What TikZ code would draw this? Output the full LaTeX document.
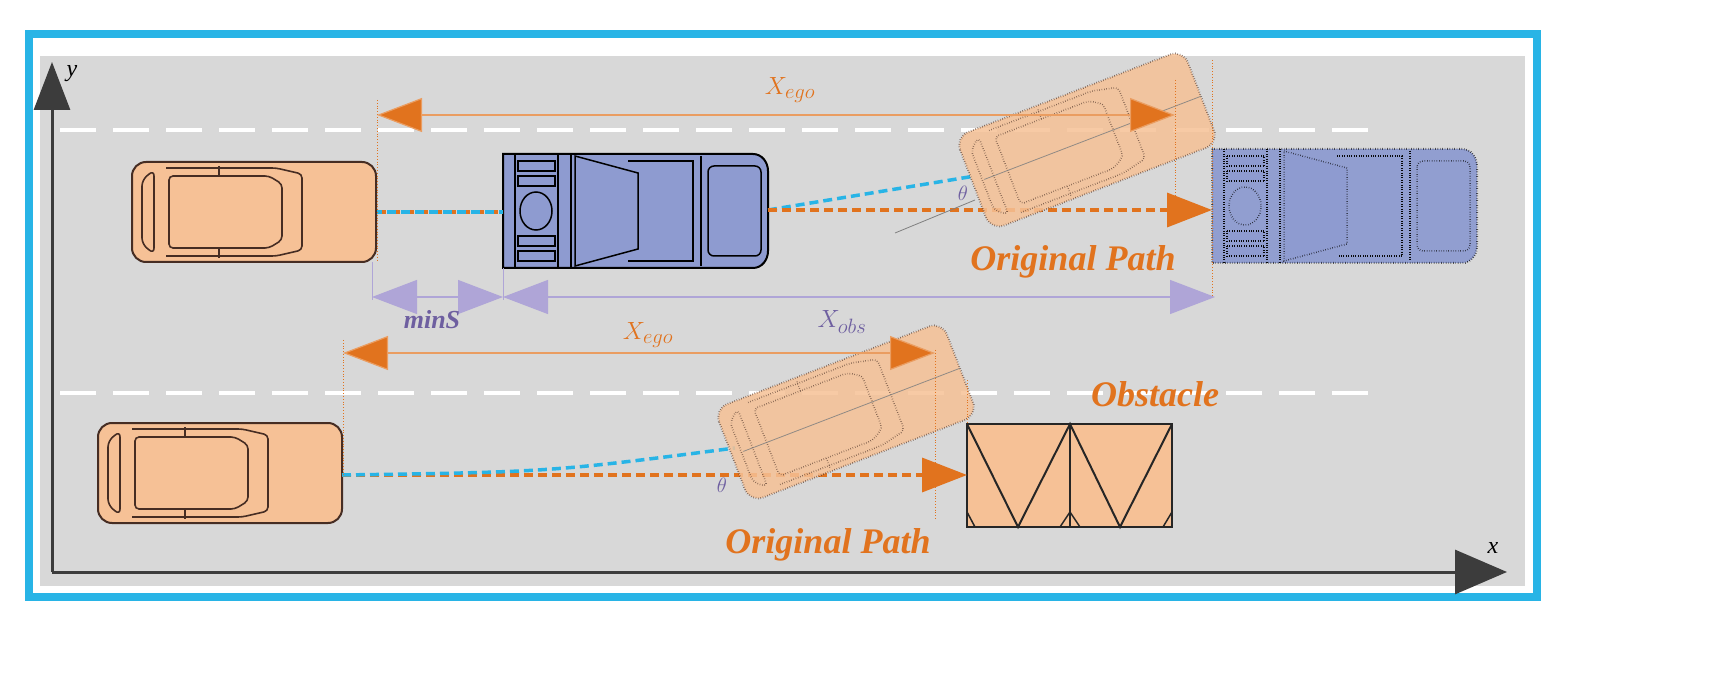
\documentclass[tikz,border=0pt]{standalone}
\usepackage{fontspec}
\setmainfont{Liberation Serif}
\usetikzlibrary{arrows.meta}
\definecolor{peach}{RGB}{246,193,150}
\definecolor{tblue}{RGB}{142,155,208}
\definecolor{outl}{RGB}{70,45,35}
\definecolor{org}{RGB}{225,115,30}
\definecolor{cyanl}{RGB}{40,180,230}
\definecolor{purp}{RGB}{175,165,215}
\definecolor{purpt}{RGB}{110,95,160}
\definecolor{panel}{RGB}{216,216,216}
\definecolor{axisc}{RGB}{60,60,60}
\tikzset{
  lbl/.style={font=\fontsize{36}{36}\selectfont\bfseries\itshape, text=org},
  dimlbl/.style={font=\fontsize{28}{28}\selectfont\itshape},
  lane/.style={white, line width=4pt, dash pattern=on 36pt off 17pt},
  opath/.style={org, line width=3.5pt, dash pattern=on 9pt off 5pt},
  cpath/.style={cyanl, line width=3.5pt, dash pattern=on 9pt off 5pt},
  otip/.style={-{Triangle[length=45pt,width=34pt]}},
  guide/.style={org, line width=0.8pt, dotted},
  pics/car/.style={code={
    \draw[rounded corners=14pt, fill=peach, draw=outl, line width=2pt] (-122,-50) rectangle (122,50);
    \draw[outl, line width=1.6pt, rounded corners=6pt] (-100,-42) -- (-112,-32) -- (-112,32) -- (-100,42) -- cycle;
    \draw[outl, line width=1.6pt, rounded corners=4pt] (-88,-44) -- (22,-44) -- (48,-38) -- (48,38) -- (22,44) -- (-88,44);
    \draw[outl, line width=1.6pt, rounded corners=4pt] (-85,-36) -- (15,-36) -- (28,-28) -- (28,28) -- (15,36) -- (-85,36) -- cycle;
    \draw[outl, line width=1.2pt] (-35,-46) -- (-35,-36) (-35,36) -- (-35,46);
  }},
  pics/truck/.style={code={
    \draw[fill=tblue, line width=2pt] (0,-57) -- (250,-57) to[out=0,in=90] (265,-40) -- (265,40) to[out=-90,in=0] (250,57) -- (0,57) -- cycle;
    \draw[line width=1.5pt] (12,-57) -- (12,57) (55,-57) -- (55,57) (68,-57) -- (68,57);
    \foreach \yy in {-50,-35,25,40}{\draw[line width=1.2pt, fill=tblue] (15,\yy) rectangle (52,\yy+10);}
    \draw[line width=1.5pt] (33,0) ellipse (16 and 19);
    \draw[line width=1.5pt, fill=tblue] (72,-55) -- (135,-38) -- (135,38) -- (72,55) -- cycle;
    \draw[line width=1.5pt] (125,-50) -- (190,-50) -- (190,50) -- (125,50);
    \draw[line width=1.5pt] (198,-55) -- (198,55);
    \draw[line width=1.5pt, rounded corners=6pt] (205,-45) rectangle (258,45);
  }}
}
\begin{document}
\begin{tikzpicture}[x=1pt,y=-1pt]
\fill[white] (0,0) rectangle (1713,684);
% panel
\fill[panel] (40,56) rectangle (1525,586);
\draw[cyanl, line width=8pt] (29,34) rectangle (1537,597);
% lanes
\draw[lane] (60,130) -- (1375,130);
\draw[lane] (60,393) -- (1375,393);
% axes
\coordinate (O) at (52,572);
\coordinate (Y) at (52,62);
\coordinate (X) at (1507,572);
\draw[axisc, line width=3pt, -{Triangle[length=48pt,width=36pt]}] (O) -- (Y);
\draw[axisc, line width=3pt, -{Triangle[length=52pt,width=44pt]}] (O) -- (X);
\node[dimlbl, font=\fontsize{24}{24}\selectfont\itshape] (ylab) at (72,74) {y};
\node[dimlbl, font=\fontsize{24}{24}\selectfont\itshape] (xlab) at (1493,548) {x};

% ===== top scene =====
\pic at (254,212) {car};
\pic at (503,211) {truck};
\begin{scope}[opacity=0.95]
\pic[dotted] at (1212,206) {truck};
\end{scope}
\draw[opath] (377,212) -- (503,212);
\draw[cpath, dash phase=4pt] (377,212) -- (503,212);
\draw[cpath] (768,210) -- (975,176);
\draw[opath, otip] (768,210) -- (1212,210);
\draw[gray, line width=0.8pt] (895,233) -- (975,200);
\node[dimlbl, text=purpt, font=\fontsize{22}{22}\selectfont\itshape] (th1) at (963,193) {$\theta$};
\begin{scope}[shift={(1087,140)}, rotate=21, opacity=0.85]
\pic[dotted, transform shape] {car};
\draw[gray, line width=0.8pt] (-110,0) -- (122,0);
\end{scope}
\coordinate (a1) at (377,115);
\coordinate (a2) at (1175,115);
\draw[guide] (377,100) -- (377,262);
\draw[guide] (1175,80) -- (1175,210);
\draw[guide] (1212,60) -- (1212,297);
\draw[org!70, line width=1.2pt, {Triangle[length=45pt,width=34pt,fill=org]}-{Triangle[length=45pt,width=34pt,fill=org]}] (a1) -- (a2);
\node[dimlbl, text=org] (xego1) at (790,90) {$X_{ego}$};
\node[lbl] (op1) at (1073,262) {Original Path};
\draw[purp, line width=0.8pt] (372,262) -- (372,300);
\draw[purp, line width=0.8pt] (503,268) -- (503,300);
\draw[purp, line width=1.2pt, {Triangle[length=45pt,width=34pt]}-{Triangle[length=45pt,width=34pt]}] (372,297) -- (503,297);
\draw[purp, line width=1.2pt, {Triangle[length=45pt,width=34pt]}-{Triangle[length=45pt,width=34pt]}] (503,297) -- (1215,297);
\node[dimlbl, text=purpt, font=\fontsize{26}{26}\selectfont\bfseries\itshape] (mins) at (432,320) {minS};
\node[dimlbl, text=purpt] (xobs) at (842,322) {$X_{obs}$};

% ===== bottom scene =====
\pic at (220,473) {car};
\draw[fill=peach, draw=black!85, line width=2.5pt] (967,424) rectangle (1172,527);
\draw[black!85, line width=2pt] (1070,424) -- (1070,527);
\draw[black!85, line width=2pt] (967,424) -- (1018,527) -- (1070,424) -- (1120,527) -- (1172,424);
\draw[black!85, line width=1.5pt] (967,512) -- (975,527) (1060,527) -- (1070,512) -- (1080,527) (1163,527) -- (1172,512);
\node[lbl] (obs) at (1155,394) {Obstacle};
\draw[opath, otip] (342,475) -- (967,475);
\draw[cpath] (342,475) .. controls (550,472) .. (735,448);
\node[dimlbl, text=purpt, font=\fontsize{22}{22}\selectfont\itshape] (th2) at (722,485) {$\theta$};
\begin{scope}[shift={(846,412)}, rotate=21, opacity=0.85]
\pic[dotted, transform shape] {car};
\draw[gray, line width=0.8pt] (-110,0) -- (122,0);
\end{scope}
\draw[guide] (343,340) -- (343,475);
\draw[guide] (935,350) -- (935,520);
\draw[guide] (967,380) -- (967,424);
\draw[org!70, line width=1.2pt, {Triangle[length=45pt,width=34pt,fill=org]}-{Triangle[length=45pt,width=34pt,fill=org]}] (343,353) -- (935,353);
\node[dimlbl, text=org] (xego2) at (648,335) {$X_{ego}$};
\node[lbl] (op2) at (828,545) {Original Path};
\pgfresetboundingbox
\useasboundingbox (0,0) rectangle (1713,684);
\end{tikzpicture}
\end{document}
